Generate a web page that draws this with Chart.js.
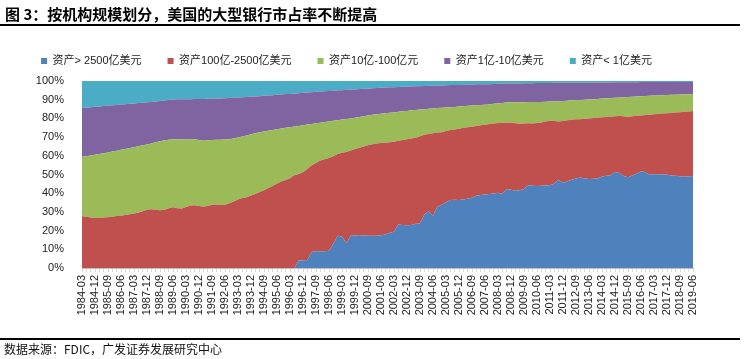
<!DOCTYPE html>
<html><head><meta charset="utf-8">
<script src="https://cdn.jsdelivr.net/npm/chart.js@4.4.1/dist/chart.umd.min.js"></script>
<style>
html,body{margin:0;padding:0;background:#fff;}
#wrap{position:relative;width:745px;height:359px;overflow:hidden;background:#fff;}
#c{position:absolute;left:0;top:0;}
.cap{position:absolute;left:5px;top:5px;font:bold 15px/17px "Noto Sans CJK SC",sans-serif;color:#000;white-space:nowrap;}
.rule{position:absolute;left:0;width:740px;height:2px;background:#000;}
.src{position:absolute;left:4px;top:342px;font:12px/14px "Noto Sans CJK SC",sans-serif;color:#111;white-space:nowrap;}
</style></head>
<body><div id="wrap">
<canvas id="c" width="745" height="359"></canvas>
<div class="cap">图 3：按机构规模划分，美国的大型银行市占率不断提高</div>
<div class="rule" style="top:24px"></div>
<div class="rule" style="top:338px"></div>
<div class="src">数据来源：FDIC，广发证券发展研究中心</div>
</div>
<script>
const categories = [
"1984-03","1984-06","1984-09","1984-12","1985-03","1985-06","1985-09","1985-12","1986-03","1986-06","1986-09","1986-12",
"1987-03","1987-06","1987-09","1987-12","1988-03","1988-06","1988-09","1988-12","1989-03","1989-06","1989-09","1989-12",
"1990-03","1990-06","1990-09","1990-12","1991-03","1991-06","1991-09","1991-12","1992-03","1992-06","1992-09","1992-12",
"1993-03","1993-06","1993-09","1993-12","1994-03","1994-06","1994-09","1994-12","1995-03","1995-06","1995-09","1995-12",
"1996-03","1996-06","1996-09","1996-12","1997-03","1997-06","1997-09","1997-12","1998-03","1998-06","1998-09","1998-12",
"1999-03","1999-06","1999-09","1999-12","2000-03","2000-06","2000-09","2000-12","2001-03","2001-06","2001-09","2001-12",
"2002-03","2002-06","2002-09","2002-12","2003-03","2003-06","2003-09","2003-12","2004-03","2004-06","2004-09","2004-12",
"2005-03","2005-06","2005-09","2005-12","2006-03","2006-06","2006-09","2006-12","2007-03","2007-06","2007-09","2007-12",
"2008-03","2008-06","2008-09","2008-12","2009-03","2009-06","2009-09","2009-12","2010-03","2010-06","2010-09","2010-12",
"2011-03","2011-06","2011-09","2011-12","2012-03","2012-06","2012-09","2012-12","2013-03","2013-06","2013-09","2013-12",
"2014-03","2014-06","2014-09","2014-12","2015-03","2015-06","2015-09","2015-12","2016-03","2016-06","2016-09","2016-12",
"2017-03","2017-06","2017-09","2017-12","2018-03","2018-06","2018-09","2018-12","2019-03","2019-06"
];

const seriesNames = ["资产> 2500亿美元","资产100亿-2500亿美元","资产10亿-100亿元","资产1亿-10亿美元","资产< 1亿美元"];

// share of total assets (%), by asset size class
const assetsAbove250B = [
0,0,0,0,0,0,0,0,0,0,
0,0,0,0,0,0,0,0,0,0,
0,0,0,0,0,0,0,0,0,0,
0,0,0,0,0,0,0,0,0,0,
0,0,0,0,0,0,0,0,0,0,
4.0,4.1,4.3,8.5,8.9,9.0,9.0,9.2,13.0,17.3,
16.8,13.3,17.2,17.4,17.3,17.4,17.2,17.3,17.2,17.5,
17.9,18.9,19.4,23.3,23.0,22.8,23.0,23.6,23.8,28.6,
30.3,28.0,32.8,33.8,35.0,36.4,36.5,36.4,36.6,37.0,
37.6,38.6,39.0,39.3,39.6,39.8,40.2,39.6,42.3,41.8,
41.3,41.6,42.2,44.2,44.0,43.9,44.0,44.1,44.3,45.0,
47.2,45.5,46.4,47.2,47.9,48.4,47.8,47.6,47.7,47.8,
48.9,49.3,49.6,51.3,50.8,49.2,48.5,49.4,50.4,51.8,
51.2,49.8,50.2,50.2,50.0,49.8,49.5,49.3,49.1,48.8,
48.9,49.2
];
const assets10Bto250B = [
27.7,27.4,27.0,26.8,26.7,27.0,27.2,27.4,27.8,28.0,
28.3,28.8,29.2,29.6,30.4,31.2,31.4,31.2,30.9,31.2,
32.0,32.5,32.0,31.8,32.6,33.4,33.6,33.2,32.9,33.2,
33.8,33.9,33.7,33.8,34.6,35.6,36.6,37.5,37.8,38.8,
39.6,40.6,41.6,42.8,43.8,45.2,46.2,47.0,48.0,49.6,
46.3,47.1,48.7,46.5,47.3,48.5,49.2,49.6,46.8,43.7,
44.8,48.7,45.6,46.2,47.0,47.6,48.5,48.9,49.4,49.3,
49.1,48.4,48.1,44.7,45.4,46.1,46.3,46.1,46.7,42.6,
41.3,44.0,39.6,38.8,38.2,37.4,37.6,38.1,38.4,38.3,
38.0,37.3,37.3,37.3,37.4,37.5,37.3,38.0,35.5,35.9,
36.1,35.6,35.1,33.2,33.3,33.6,33.8,34.2,34.4,33.6,
31.2,33.1,32.6,32.1,31.6,31.2,32.0,32.4,32.5,32.6,
31.7,31.4,31.3,29.9,30.5,31.9,32.3,31.7,31.0,29.8,
30.6,32.2,32.0,32.2,32.6,33.0,33.4,33.8,34.2,34.7,
34.8,34.7
];
const assets1Bto10B = [
31.8,32.4,33.2,33.8,34.2,34.3,34.6,34.9,34.9,35.2,
35.3,35.4,35.4,35.5,35.2,34.9,35.2,36.0,36.9,37.1,
36.6,36.4,36.9,37.0,36.1,35.3,35.2,35.2,35.1,35.1,
34.7,34.7,34.9,34.9,34.3,33.7,33.2,32.8,33.1,32.7,
32.4,32.0,31.4,30.6,30.0,29.0,28.4,28.0,27.3,26.1,
25.7,25.2,23.7,22.0,21.2,20.2,19.9,19.6,18.9,18.0,
17.8,17.7,17.2,16.8,16.5,16.1,15.8,15.7,15.6,15.7,
15.8,15.7,15.7,15.5,15.4,15.1,15.0,14.8,14.2,13.7,
13.5,13.3,13.1,13.1,12.6,12.1,12.0,11.8,11.5,11.4,
11.3,11.1,10.8,10.7,10.5,10.5,10.5,10.7,10.7,10.9,
11.3,11.5,11.4,11.4,11.5,11.3,11.0,10.6,10.3,10.5,
10.8,10.7,10.5,10.4,10.3,10.3,10.2,10.1,10.1,10.0,
10.0,10.1,10.0,9.8,9.9,10.2,10.6,10.5,10.3,10.3,
10.2,10.1,10.0,9.9,9.8,9.7,9.7,9.6,9.5,9.4,
9.2,9.1
];
const assets100Mto1B = [
26.0,25.9,25.8,25.6,25.5,25.3,25.0,24.7,24.5,24.2,
24.0,23.6,23.4,23.1,22.8,22.5,22.2,21.9,21.5,21.3,
21.3,21.2,21.3,21.4,21.6,21.6,21.6,22.0,22.4,22.2,
22.0,22.0,22.1,22.1,22.0,21.7,21.3,21.0,20.5,20.1,
19.7,19.3,19.1,18.9,18.6,18.4,18.2,18.0,17.8,17.6,
17.5,17.3,17.2,17.0,16.8,16.7,16.4,16.3,16.1,16.0,
15.7,15.6,15.4,15.1,14.9,14.7,14.4,14.2,14.0,13.9,
13.7,13.6,13.5,13.3,13.1,13.0,12.8,12.7,12.5,12.4,
12.3,12.2,12.1,11.9,11.9,11.9,11.7,11.6,11.5,11.3,
11.2,11.2,11.1,11.0,10.8,10.6,10.5,10.2,10.1,10.0,
10.0,10.0,10.1,10.0,10.0,10.1,10.1,10.0,9.9,9.9,
9.8,9.7,9.5,9.4,9.3,9.2,9.1,9.0,8.9,8.8,
8.6,8.4,8.3,8.3,8.1,8.0,7.9,7.7,7.6,7.5,
7.4,7.3,7.2,7.1,7.0,6.9,6.9,6.8,6.7,6.6,
6.6,6.5
];
const assetsBelow100M = [
14.5,14.3,14.0,13.8,13.6,13.4,13.2,13.0,12.8,12.6,
12.4,12.2,12.0,11.8,11.6,11.4,11.2,10.9,10.7,10.4,
10.1,9.9,9.8,9.8,9.7,9.7,9.6,9.6,9.6,9.5,
9.5,9.4,9.3,9.2,9.1,9.0,8.9,8.7,8.6,8.4,
8.3,8.1,7.9,7.7,7.6,7.4,7.2,7.0,6.9,6.7,
6.5,6.3,6.1,6.0,5.8,5.6,5.5,5.3,5.2,5.0,
4.9,4.7,4.6,4.5,4.3,4.2,4.1,3.9,3.8,3.6,
3.5,3.4,3.3,3.2,3.1,3.0,2.9,2.8,2.8,2.7,
2.6,2.5,2.4,2.4,2.3,2.2,2.2,2.1,2.0,2.0,
1.9,1.8,1.8,1.7,1.7,1.6,1.5,1.5,1.4,1.4,
1.3,1.3,1.2,1.2,1.2,1.1,1.1,1.1,1.1,1.0,
1.0,1.0,1.0,0.9,0.9,0.9,0.9,0.9,0.8,0.8,
0.8,0.8,0.8,0.7,0.7,0.7,0.7,0.7,0.7,0.6,
0.6,0.6,0.6,0.6,0.6,0.6,0.5,0.5,0.5,0.5,
0.5,0.5
];

const seriesValues = [assetsAbove250B, assets10Bto250B, assets1Bto10B, assets100Mto1B, assetsBelow100M];
const colors = ["#4F81BD","#C0504D","#9BBB59","#8064A2","#4BACC6"];

Chart.defaults.font.family = '"Liberation Sans", "Noto Sans CJK SC", Arial, sans-serif';
Chart.defaults.font.size = 11;
Chart.defaults.color = "#222";

new Chart(document.getElementById("c"), {
  type: "line",
  data: {
    labels: categories,
    datasets: seriesNames.map((name, k) => ({
      label: name,
      data: seriesValues[k],
      backgroundColor: colors[k],
      borderColor: colors[k],
      borderWidth: 0,
      pointRadius: 0,
      pointHoverRadius: 0,
      tension: 0,
      fill: k === 0 ? "origin" : "-1"
    }))
  },
  options: {
    responsive: false,
    animation: false,
    events: [],
    layout: { padding: { top: 29.5, right: 52, bottom: 31, left: 0 } },
    plugins: {
      legend: {
        position: "top",
        labels: { boxWidth: 6, boxHeight: 6, padding: 26, color: "#222", font: { size: 11 } }
      },
      subtitle: {
        display: true, text: "", position: "top", weight: 500,
        font: { size: 1, lineHeight: 1 }, padding: { top: 0, bottom: 3.5 }
      },
      tooltip: { enabled: false }
    },
    scales: {
      x: {
        grid: { display: true, drawOnChartArea: false, drawTicks: true, tickLength: 4, color: "#d9d9d9" },
        border: { display: true, color: "#bfbfbf" },
        ticks: {
          autoSkip: false, minRotation: 90, maxRotation: 90, padding: 3,
          color: "#222", font: { size: 11 },
          callback: (v, i) => (i % 3 === 0 ? categories[i] : "")
        },
        afterFit: s => { s.height = 60; }
      },
      y: {
        stacked: true, min: 0, max: 100,
        grid: { display: false },
        border: { display: true, color: "#bfbfbf" },
        ticks: { stepSize: 10, padding: 10, color: "#222", font: { size: 11 }, callback: v => v + "%" },
        afterFit: s => { s.width = 82; }
      }
    }
  }
});
</script>
</body></html>
